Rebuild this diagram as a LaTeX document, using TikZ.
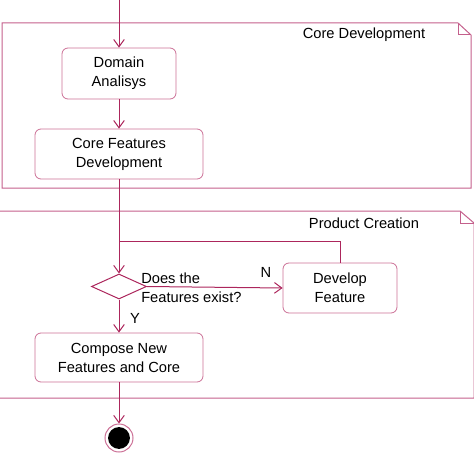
\documentclass[tikz,border=0pt]{standalone}
\usepackage{fontspec}
\setmainfont{Liberation Sans}
\usetikzlibrary{arrows.meta,shapes.geometric}

\definecolor{flowline}{RGB}{172,38,92}
\definecolor{boxline}{RGB}{204,112,150}
\definecolor{frameline}{RGB}{196,96,140}

\tikzset{
  activity/.style={draw=boxline, line width=0.6pt, rounded corners=4.5pt, fill=white, align=center, inner sep=0pt},
  flow/.style={draw=flowline, line width=0.75pt, -{Straight Barb[length=5.5pt,width=8pt]}},
  plainflow/.style={draw=flowline, line width=0.75pt},
  region/.style={draw=frameline, line width=0.75pt},
  guard/.style={inner sep=0pt}
}

\begin{document}
\begin{tikzpicture}[x=0.75pt,y=0.75pt,yscale=-1,font=\fontsize{11pt}{14.3pt}\selectfont]
\useasboundingbox (0,0) rectangle (474,456);

%Shape: Region Core Development
\draw [region] (2,23) -- (458,23) -- (471,35) -- (471,188) -- (2,188) -- cycle ;
\draw [region] (458,23) -- (458,35) -- (471,35) ;
%Shape: Region Product Creation
\draw [region] (-5,211) -- (460,211) -- (474,223) -- (474,398) -- (-5,398) ;
\draw [region] (460,211) -- (460,223) -- (474,223) ;

% Text Node
\node (coretitle) at (364,35) {Core Development};
% Text Node
\node (prodtitle) at (364,223) {Product Creation};

%Activities
\node [activity, minimum width=85.5pt, minimum height=38.25pt] (domain) at (119,73.5) {Domain\\Analisys};
\node [activity, minimum width=126pt, minimum height=37.5pt] (core) at (119,154) {Core Features\\Development};
\node [draw=flowline, line width=0.75pt, diamond, minimum width=41.25pt, minimum height=18.75pt, inner sep=0pt, fill=white] (exist) at (119,286.5) {};
\node [activity, minimum width=85.5pt, minimum height=37.5pt] (develop) at (340,288) {Develop\\Feature};
\node [activity, minimum width=126pt, minimum height=36.75pt] (compose) at (119,357.5) {Compose New\\Features and Core};
\node [circle, draw=boxline, line width=0.75pt, fill=white, minimum size=21pt, inner sep=0pt] (final) at (119,438) {};
\fill [black] (final.center) circle (8.2pt) ;

%Start and loop points
\coordinate (start) at (119,-2);
\coordinate (back) at (119,241);

%Flows
\draw [flow] (start) -- (domain) ;
\draw [flow] (domain) -- (core) ;
\draw [flow] (core) -- (exist) ;
\draw [flow] (exist.east) -- (develop.west) ;
\draw [plainflow] (develop.north) |- (back) ;
\draw [flow] (exist) -- (compose) ;
\draw [flow] (compose) -- (final) ;

% Text Node
\node [guard, anchor=west, align=left] (question) at (141,288) {Does the\\Features exist?};
% Text Node
\node [guard] (no) at (266,272) {N};
% Text Node
\node [guard] (yes) at (135,318) {Y};

\end{tikzpicture}
\end{document}
